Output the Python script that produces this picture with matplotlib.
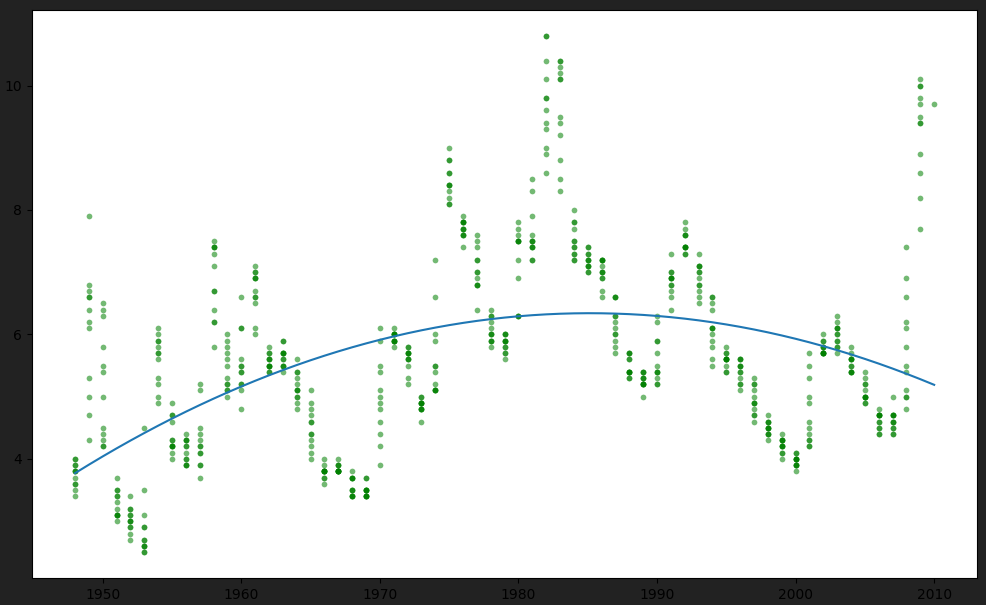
import numpy as np
import matplotlib
matplotlib.use('Agg')
import matplotlib.pyplot as plt

# 월별 실업률 (연도별 12개월), 마지막 해는 1월만
years = list(range(1948, 2011))

rates_by_year = [
    [3.4, 3.8, 4.0, 3.9, 3.5, 3.6, 3.6, 3.9, 3.8, 3.7, 3.8, 4.0],   # 1948
    [4.3, 4.7, 5.0, 5.3, 6.1, 6.2, 6.7, 6.8, 6.6, 7.9, 6.4, 6.6],   # 1949
    [6.5, 6.4, 6.3, 5.8, 5.5, 5.4, 5.0, 4.5, 4.4, 4.2, 4.2, 4.3],   # 1950
    [3.7, 3.4, 3.4, 3.1, 3.0, 3.2, 3.1, 3.1, 3.3, 3.5, 3.5, 3.1],   # 1951
    [3.2, 3.1, 2.9, 2.9, 3.0, 3.0, 3.2, 3.4, 3.1, 3.0, 2.8, 2.7],   # 1952
    [2.9, 2.6, 2.6, 2.7, 2.5, 2.5, 2.6, 2.7, 2.9, 3.1, 3.5, 4.5],   # 1953
    [4.9, 5.2, 5.7, 5.9, 5.9, 5.6, 5.8, 6.0, 6.1, 5.7, 5.3, 5.0],   # 1954
    [4.9, 4.7, 4.6, 4.7, 4.3, 4.2, 4.0, 4.2, 4.1, 4.3, 4.2, 4.2],   # 1955
    [4.0, 3.9, 4.2, 4.0, 4.3, 4.3, 4.4, 4.1, 3.9, 3.9, 4.3, 4.2],   # 1956
    [4.2, 3.9, 3.7, 3.9, 4.1, 4.3, 4.2, 4.1, 4.4, 4.5, 5.1, 5.2],   # 1957
    [5.8, 6.4, 6.7, 7.4, 7.4, 7.3, 7.5, 7.4, 7.1, 6.7, 6.2, 6.2],   # 1958
    [6.0, 5.9, 5.6, 5.2, 5.1, 5.0, 5.1, 5.2, 5.5, 5.7, 5.8, 5.3],   # 1959
    [5.2, 4.8, 5.4, 5.2, 5.1, 5.4, 5.5, 5.6, 5.5, 6.1, 6.1, 6.6],   # 1960
    [6.6, 6.9, 6.9, 7.0, 7.1, 6.9, 7.0, 6.6, 6.7, 6.5, 6.1, 6.0],   # 1961
    [5.8, 5.5, 5.6, 5.6, 5.5, 5.5, 5.4, 5.7, 5.6, 5.4, 5.7, 5.5],   # 1962
    [5.7, 5.9, 5.7, 5.7, 5.9, 5.6, 5.6, 5.4, 5.5, 5.5, 5.7, 5.5],   # 1963
    [5.6, 5.4, 5.4, 5.3, 5.1, 5.2, 4.9, 5.0, 5.1, 5.1, 4.8, 5.0],   # 1964
    [4.9, 5.1, 4.7, 4.8, 4.6, 4.6, 4.4, 4.4, 4.3, 4.2, 4.1, 4.0],   # 1965
    [4.0, 3.8, 3.8, 3.8, 3.9, 3.8, 3.8, 3.8, 3.7, 3.7, 3.6, 3.8],   # 1966
    [3.9, 3.8, 3.8, 3.8, 3.8, 3.9, 3.8, 3.8, 3.8, 4.0, 3.9, 3.8],   # 1967
    [3.7, 3.8, 3.7, 3.5, 3.5, 3.7, 3.7, 3.5, 3.4, 3.4, 3.4, 3.4],   # 1968
    [3.4, 3.4, 3.4, 3.4, 3.4, 3.5, 3.5, 3.5, 3.7, 3.7, 3.5, 3.5],   # 1969
    [3.9, 4.2, 4.4, 4.6, 4.8, 4.9, 5.0, 5.1, 5.4, 5.5, 5.9, 6.1],   # 1970
    [5.9, 5.9, 6.0, 5.9, 5.9, 5.9, 6.0, 6.1, 6.0, 5.8, 6.0, 6.0],   # 1971
    [5.8, 5.7, 5.8, 5.7, 5.7, 5.7, 5.6, 5.6, 5.5, 5.6, 5.3, 5.2],   # 1972
    [4.9, 5.0, 4.9, 5.0, 4.9, 4.9, 4.8, 4.8, 4.8, 4.6, 4.8, 4.9],   # 1973
    [5.1, 5.2, 5.1, 5.1, 5.1, 5.4, 5.5, 5.5, 5.9, 6.0, 6.6, 7.2],   # 1974
    [8.1, 8.1, 8.6, 8.8, 9.0, 8.8, 8.6, 8.4, 8.4, 8.4, 8.3, 8.2],   # 1975
    [7.9, 7.7, 7.6, 7.7, 7.4, 7.6, 7.8, 7.8, 7.6, 7.7, 7.8, 7.8],   # 1976
    [7.5, 7.6, 7.4, 7.2, 7.0, 7.2, 6.9, 7.0, 6.8, 6.8, 6.8, 6.4],   # 1977
    [6.4, 6.3, 6.3, 6.1, 6.0, 5.9, 6.2, 5.9, 6.0, 5.8, 5.9, 6.0],   # 1978
    [5.9, 5.9, 5.8, 5.8, 5.6, 5.7, 5.7, 6.0, 5.9, 6.0, 5.9, 6.0],   # 1979
    [6.3, 6.3, 6.3, 6.9, 7.5, 7.6, 7.8, 7.7, 7.5, 7.5, 7.5, 7.2],   # 1980
    [7.5, 7.4, 7.4, 7.2, 7.5, 7.5, 7.2, 7.4, 7.6, 7.9, 8.3, 8.5],   # 1981
    [8.6, 8.9, 9.0, 9.3, 9.4, 9.6, 9.8, 9.8, 10.1, 10.4, 10.8, 10.8],  # 1982
    [10.4, 10.4, 10.3, 10.2, 10.1, 10.1, 9.4, 9.5, 9.2, 8.8, 8.5, 8.3],  # 1983
    [8.0, 7.8, 7.8, 7.7, 7.4, 7.2, 7.5, 7.5, 7.3, 7.4, 7.2, 7.3],   # 1984
    [7.3, 7.2, 7.2, 7.3, 7.2, 7.4, 7.4, 7.1, 7.1, 7.1, 7.0, 7.0],   # 1985
    [6.7, 7.2, 7.2, 7.1, 7.2, 7.2, 7.0, 6.9, 7.0, 7.0, 6.9, 6.6],   # 1986
    [6.6, 6.6, 6.6, 6.3, 6.3, 6.2, 6.1, 6.0, 5.9, 6.0, 5.8, 5.7],   # 1987
    [5.7, 5.7, 5.7, 5.4, 5.6, 5.4, 5.4, 5.6, 5.4, 5.4, 5.3, 5.3],   # 1988
    [5.4, 5.2, 5.0, 5.2, 5.2, 5.3, 5.2, 5.2, 5.3, 5.3, 5.4, 5.4],   # 1989
    [5.4, 5.3, 5.2, 5.4, 5.4, 5.2, 5.5, 5.7, 5.9, 5.9, 6.2, 6.3],   # 1990
    [6.4, 6.6, 6.8, 6.7, 6.9, 6.9, 6.8, 6.9, 6.9, 7.0, 7.0, 7.3],   # 1991
    [7.3, 7.4, 7.4, 7.4, 7.6, 7.8, 7.7, 7.6, 7.6, 7.3, 7.4, 7.4],   # 1992
    [7.3, 7.1, 7.0, 7.1, 7.1, 7.0, 6.9, 6.8, 6.7, 6.8, 6.6, 6.5],   # 1993
    [6.6, 6.6, 6.5, 6.4, 6.1, 6.1, 6.1, 6.0, 5.9, 5.8, 5.6, 5.5],   # 1994
    [5.6, 5.4, 5.4, 5.8, 5.6, 5.6, 5.7, 5.7, 5.6, 5.5, 5.6, 5.6],   # 1995
    [5.6, 5.5, 5.5, 5.6, 5.6, 5.3, 5.5, 5.1, 5.2, 5.2, 5.4, 5.4],   # 1996
    [5.3, 5.2, 5.2, 5.1, 4.9, 5.0, 4.9, 4.8, 4.9, 4.7, 4.6, 4.7],   # 1997
    [4.6, 4.6, 4.7, 4.3, 4.4, 4.5, 4.5, 4.5, 4.6, 4.5, 4.4, 4.4],   # 1998
    [4.3, 4.4, 4.2, 4.3, 4.2, 4.3, 4.3, 4.2, 4.2, 4.1, 4.1, 4.0],   # 1999
    [4.0, 4.1, 4.0, 3.8, 4.0, 4.0, 4.0, 4.1, 3.9, 3.9, 3.9, 3.9],   # 2000
    [4.2, 4.2, 4.3, 4.4, 4.3, 4.5, 4.6, 4.9, 5.0, 5.3, 5.5, 5.7],   # 2001
    [5.7, 5.7, 5.7, 5.9, 5.8, 5.8, 5.8, 5.7, 5.7, 5.7, 5.9, 6.0],   # 2002
    [5.8, 5.9, 5.9, 6.0, 6.1, 6.3, 6.2, 6.1, 6.1, 6.0, 5.8, 5.7],   # 2003
    [5.7, 5.6, 5.8, 5.6, 5.6, 5.6, 5.5, 5.4, 5.4, 5.5, 5.4, 5.4],   # 2004
    [5.3, 5.4, 5.2, 5.2, 5.1, 5.0, 5.0, 4.9, 5.0, 5.0, 5.0, 4.9],   # 2005
    [4.7, 4.8, 4.7, 4.7, 4.6, 4.6, 4.7, 4.7, 4.5, 4.4, 4.5, 4.4],   # 2006
    [4.6, 4.5, 4.4, 4.5, 4.4, 4.6, 4.7, 4.6, 4.7, 4.7, 4.7, 5.0],   # 2007
    [5.0, 4.8, 5.1, 5.0, 5.4, 5.5, 5.8, 6.1, 6.2, 6.6, 6.9, 7.4],   # 2008
    [7.7, 8.2, 8.6, 8.9, 9.4, 9.5, 9.4, 9.7, 9.8, 10.1, 10.0, 10.0],  # 2009
    [9.7],                                                         # 2010
]

# 연도 / 실업률 평탄화
x = np.array([y for y, r in zip(years, rates_by_year) for _ in r])
y = np.array([v for r in rates_by_year for v in r])

# 2차 다항식 추세선
coef = np.polyfit(x, y, 2)
xs = np.array(years)
ys = np.polyval(coef, xs)

fig = plt.figure(figsize=(9.86, 6.05), dpi=100, facecolor='#222222')
ax = fig.add_axes([0.0325, 0.0446, 0.9585, 0.939])
ax.set_facecolor('white')

ax.scatter(x, y, s=17, c='green', alpha=0.55, linewidths=0)
ax.plot(xs, ys)

plt.savefig('out.png', dpi=100, facecolor=fig.get_facecolor())
